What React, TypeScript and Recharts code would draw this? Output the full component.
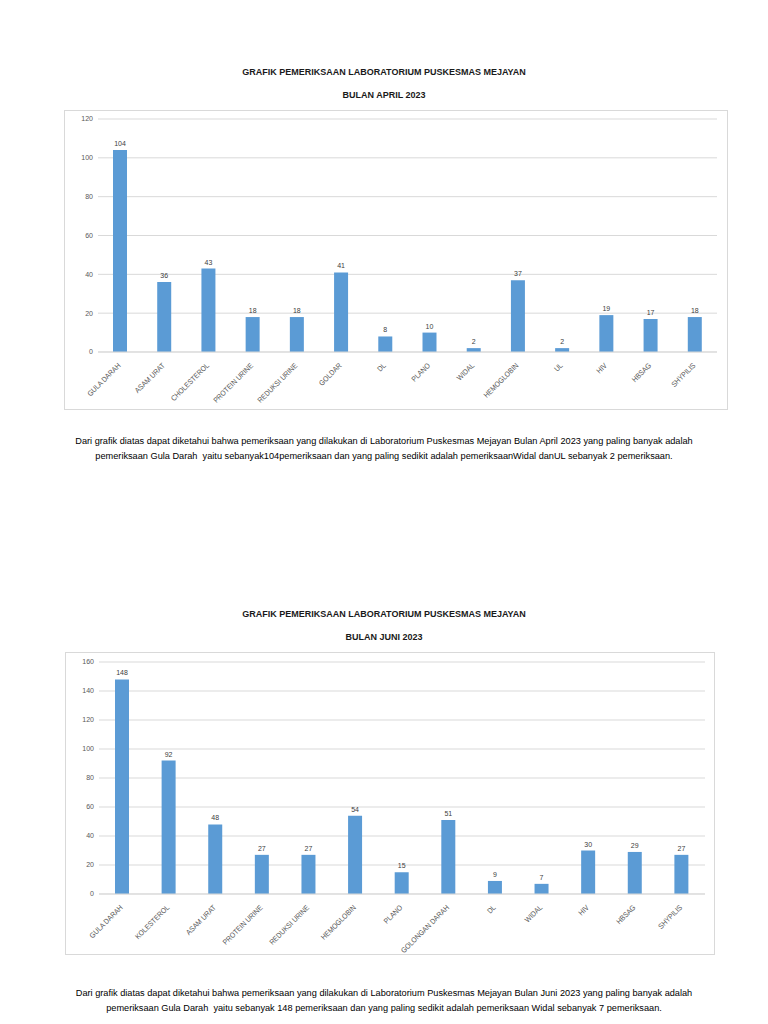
import React from 'react';
import { BarChart, Bar, XAxis, YAxis, CartesianGrid, LabelList } from 'recharts';

const aprilCategories = ['GULA DARAH', 'ASAM URAT', 'CHOLESTEROL', 'PROTEIN URINE', 'REDUKSI URINE', 'GOLDAR', 'DL', 'PLANO', 'WIDAL', 'HEMOGLOBIN', 'UL', 'HIV', 'HBSAG', 'SHYPILIS'];
const aprilValues = [104, 36, 43, 18, 18, 41, 8, 10, 2, 37, 2, 19, 17, 18];
const aprilTicks = [0, 20, 40, 60, 80, 100, 120];

const juneCategories = ['GULA DARAH', 'KOLESTEROL', 'ASAM URAT', 'PROTEIN URINE', 'REDUKSI URINE', 'HEMOGLOBIN', 'PLANO', 'GOLONGAN DARAH', 'DL', 'WIDAL', 'HIV', 'HBSAG', 'SHYPILIS'];
const juneValues = [148, 92, 48, 27, 27, 54, 15, 51, 9, 7, 30, 29, 27];
const juneTicks = [0, 20, 40, 60, 80, 100, 120, 140, 160];

const titleMain = 'GRAFIK PEMERIKSAAN LABORATORIUM PUSKESMAS MEJAYAN';
const aprilSubtitle = 'BULAN APRIL 2023';
const juneSubtitle = 'BULAN JUNI 2023';
const aprilText = [
  'Dari grafik diatas dapat diketahui bahwa pemeriksaan yang dilakukan di Laboratorium Puskesmas Mejayan Bulan April 2023 yang paling banyak adalah',
  'pemeriksaan Gula Darah  yaitu sebanyak104pemeriksaan dan yang paling sedikit adalah pemeriksaanWidal danUL sebanyak 2 pemeriksaan.',
];
const juneText = [
  'Dari grafik diatas dapat diketahui bahwa pemeriksaan yang dilakukan di Laboratorium Puskesmas Mejayan Bulan Juni 2023 yang paling banyak adalah',
  'pemeriksaan Gula Darah  yaitu sebanyak 148 pemeriksaan dan yang paling sedikit adalah pemeriksaan Widal sebanyak 7 pemeriksaan.',
];

const FONT = '"Liberation Sans", Arial, sans-serif';
const BAR = '#5b9bd5';
const GRID = '#d9d9d9';

const XTick = (props: any) => {
  const { x, y, payload } = props;
  return (
    <g transform={`translate(${x + 1},${y + 6})`}>
      <text
        x={0}
        y={0}
        textAnchor="end"
        transform="rotate(-45) scale(0.9 1)"
        fontSize={7.5}
        fill="#595959"
        fontFamily={FONT}
      >
        {payload.value}
      </text>
    </g>
  );
};

const Chart = ({ cats, vals, ticks, max, width, height, marginRight, marginTop, xHeight }: any) => {
  const data = cats.map((c: string, i: number) => ({ name: c, value: vals[i] }));
  return (
    <div
      style={{
        width,
        height,
        border: `1px solid ${GRID}`,
        boxSizing: 'border-box',
        background: '#fff',
      }}
    >
      <BarChart
        width={width - 2}
        height={height - 2}
        data={data}
        margin={{ top: marginTop, right: marginRight, left: 0, bottom: 0 }}
      >
        <CartesianGrid vertical={false} stroke={GRID} strokeWidth={1} />
        <XAxis
          dataKey="name"
          interval={0}
          height={xHeight}
          tickLine={false}
          axisLine={{ stroke: GRID }}
          tick={<XTick />}
        />
        <YAxis
          width={33}
          domain={[0, max]}
          ticks={ticks}
          tickLine={false}
          axisLine={false}
          tickSize={3}
          tickMargin={2}
          tick={{ fontSize: 7, fill: '#595959', fontFamily: FONT }}
          interval={0}
        />
        <Bar dataKey="value" fill={BAR} barSize={14} isAnimationActive={false}>
          <LabelList
            dataKey="value"
            position="top"
            offset={4}
            style={{ fontSize: 7, fill: '#404040', fontFamily: FONT }}
          />
        </Bar>
      </BarChart>
    </div>
  );
};

const Title = ({ top, text }: any) => (
  <div
    style={{
      position: 'absolute',
      top,
      left: 0,
      width: 768,
      textAlign: 'center',
      fontFamily: FONT,
      fontWeight: 'bold',
      fontSize: 9,
      color: '#1a1a1a',
      lineHeight: '12px',
      whiteSpace: 'nowrap',
    }}
  >
    {text}
  </div>
);

const Para = ({ top, lines }: any) => (
  <div
    style={{
      position: 'absolute',
      top,
      left: 0,
      width: 768,
      textAlign: 'center',
      fontFamily: FONT,
      fontSize: 9.2,
      color: '#000',
      lineHeight: '14.5px',
    }}
  >
    {lines.map((l: string, i: number) => (
      <div key={i} style={{ whiteSpace: 'pre' }}>{l}</div>
    ))}
  </div>
);

export default function App() {
  return (
    <div style={{ position: 'absolute', left: 0, top: 0, width: 768, height: 1024, background: '#fff', overflow: 'hidden' }}>
      <Title top={66} text={titleMain} />
      <Title top={89} text={aprilSubtitle} />
      <div style={{ position: 'absolute', left: 64, top: 110 }}>
        <Chart cats={aprilCategories} vals={aprilValues} ticks={aprilTicks} max={120} width={664} height={300} marginRight={10} marginTop={8} xHeight={57} />
      </div>
      <Para top={434} lines={aprilText} />

      <Title top={608} text={titleMain} />
      <Title top={631} text={juneSubtitle} />
      <div style={{ position: 'absolute', left: 65, top: 652 }}>
        <Chart cats={juneCategories} vals={juneValues} ticks={juneTicks} max={160} width={650} height={303} marginRight={9} marginTop={9} xHeight={60} />
      </div>
      <Para top={986} lines={juneText} />
    </div>
  );
}
